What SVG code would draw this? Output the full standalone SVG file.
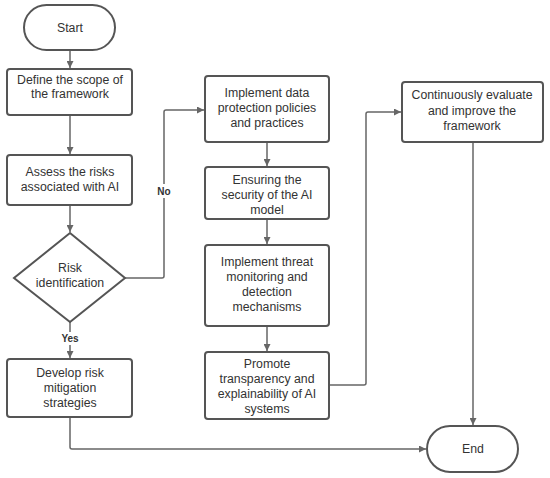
<svg xmlns="http://www.w3.org/2000/svg" width="550" height="478" viewBox="0 0 550 478">
<style>
.n{fill:#fff;stroke:#555;stroke-width:2}
.t{font-family:"Liberation Sans",Arial,sans-serif;font-size:12.3px;fill:#333;text-anchor:middle}
.l{font-family:"Liberation Sans",Arial,sans-serif;font-size:10px;font-weight:bold;fill:#333;text-anchor:middle}
.c{fill:none;stroke:#666;stroke-width:1.5}
</style>
<defs>
<marker id="a" viewBox="0 0 10 10" refX="10" refY="5" markerWidth="7" markerHeight="7" markerUnits="userSpaceOnUse" orient="auto">
<path d="M0,0 L10,5 L0,10 z" fill="#666"/>
</marker>
</defs>
<rect width="550" height="478" fill="#fff"/>
<g id="connectors">
<path class="c" d="M70,50 V68" marker-end="url(#a)"/>
<path class="c" d="M70,115 V154" marker-end="url(#a)"/>
<path class="c" d="M70,205 V232" marker-end="url(#a)"/>
<path class="c" d="M70,322 V358" marker-end="url(#a)"/>
<path class="c" d="M125,278 H162 Q164,278 164,276 V112 Q164,110 166,110 H204" marker-end="url(#a)"/>
<path class="c" d="M267,142 V166" marker-end="url(#a)"/>
<path class="c" d="M267,219 V244" marker-end="url(#a)"/>
<path class="c" d="M267,326 V351" marker-end="url(#a)"/>
<path class="c" d="M329,385 H364 Q366,385 366,383 V114 Q366,112 368,112 H401" marker-end="url(#a)"/>
<path class="c" d="M473,142 V425" marker-end="url(#a)"/>
<path class="c" d="M70,417 V447 Q70,449 72,449 H426" marker-end="url(#a)"/>
<rect x="156" y="184" width="16" height="14" fill="#fff"/>
<text class="l" x="164" y="195">No</text>
<rect x="58" y="332" width="24" height="13" fill="#fff"/>
<text class="l" x="70" y="342">Yes</text>
</g>
<g id="start">
<rect class="n" x="24" y="5" width="91" height="45" rx="22.5"/>
<text class="t" x="70" y="32">Start</text>
</g>
<g id="define">
<rect class="n" x="7" y="69" width="125" height="46" rx="3"/>
<text class="t" x="70" y="84">Define the scope of</text>
<text class="t" x="70" y="98">the framework</text>
</g>
<g id="assess">
<rect class="n" x="7" y="155" width="125" height="50" rx="3"/>
<text class="t" x="70" y="176">Assess the risks</text>
<text class="t" x="70" y="191">associated with AI</text>
</g>
<g id="risk">
<path class="n" d="M70,233 L125,278 L70,322 L14,278 Z"/>
<text class="t" x="70" y="272">Risk</text>
<text class="t" x="70" y="287">identification</text>
</g>
<g id="develop">
<rect class="n" x="7" y="359" width="125" height="58" rx="3"/>
<text class="t" x="70" y="377">Develop risk</text>
<text class="t" x="70" y="392">mitigation</text>
<text class="t" x="70" y="407">strategies</text>
</g>
<g id="data">
<rect class="n" x="205" y="76" width="124" height="66" rx="3"/>
<text class="t" x="267" y="97">Implement data</text>
<text class="t" x="267" y="112">protection policies</text>
<text class="t" x="267" y="127">and practices</text>
</g>
<g id="security">
<rect class="n" x="205" y="167" width="124" height="52" rx="3"/>
<text class="t" x="267" y="184">Ensuring the</text>
<text class="t" x="267" y="199">security of the AI</text>
<text class="t" x="267" y="214">model</text>
</g>
<g id="threat">
<rect class="n" x="205" y="245" width="124" height="81" rx="3"/>
<text class="t" x="267" y="266">Implement threat</text>
<text class="t" x="267" y="281">monitoring and</text>
<text class="t" x="267" y="296">detection</text>
<text class="t" x="267" y="311">mechanisms</text>
</g>
<g id="promote">
<rect class="n" x="205" y="352" width="124" height="67" rx="3"/>
<text class="t" x="267" y="368">Promote</text>
<text class="t" x="267" y="383">transparency and</text>
<text class="t" x="267" y="398">explainability of AI</text>
<text class="t" x="267" y="413">systems</text>
</g>
<g id="evaluate">
<rect class="n" x="402" y="82" width="141" height="60" rx="3"/>
<text class="t" x="472" y="99">Continuously evaluate</text>
<text class="t" x="472" y="115">and improve the</text>
<text class="t" x="472" y="130">framework</text>
</g>
<g id="end">
<rect class="n" x="427" y="426" width="91" height="46" rx="23"/>
<text class="t" x="473" y="453">End</text>
</g>
</svg>
